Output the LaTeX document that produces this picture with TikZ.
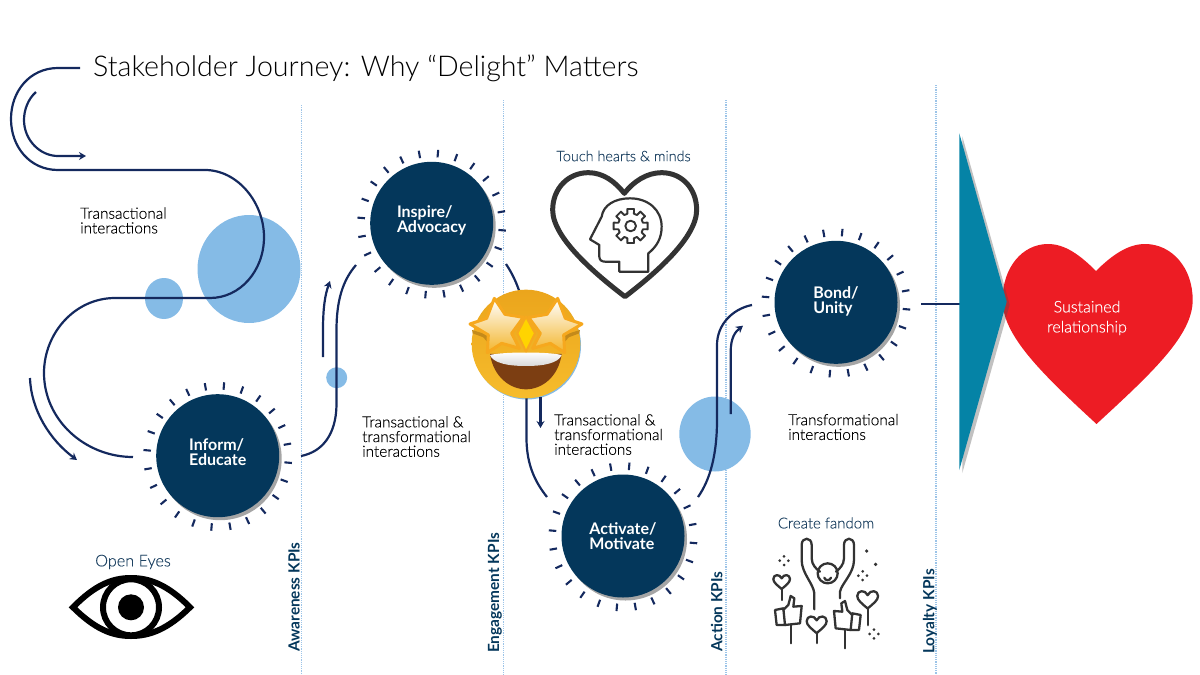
\documentclass[tikz,border=0pt]{standalone}
\usepackage{fontspec}
\setmainfont{Lato}
\newfontfamily\lightfont{Lato Light}
\newfontfamily\talkfont{Lato Light}[FakeBold=0.2]
\usetikzlibrary{arrows.meta,shadows}

\definecolor{navyline}{HTML}{14295E}
\definecolor{stageblue}{HTML}{04375B}
\definecolor{paleblue}{HTML}{85BBE6}
\definecolor{kpiline}{HTML}{9CC4E8}
\definecolor{captionblue}{HTML}{1F4363}
\definecolor{wedgeblue}{HTML}{0583A6}
\definecolor{heartred}{HTML}{ED1C24}
\definecolor{icongrey}{HTML}{333333}
\definecolor{facetop}{HTML}{EBA51C}
\definecolor{facelow}{HTML}{F6BC2C}
\definecolor{browgold}{HTML}{C48A1A}
\definecolor{mouthbrown}{HTML}{7C3E12}
\definecolor{starrim}{HTML}{F6A81E}
\definecolor{starlow}{HTML}{F3B52B}
\definecolor{gemyellow}{HTML}{FFD400}

\begin{document}
\begin{tikzpicture}[
		x=1pt,y=-1pt,
		zoomed/.style={x=.3333pt,y=-.3333pt},
		journey/.style={draw=navyline,line width=2.2pt},
		journeyarrow/.style={journey,-{Stealth[length=7pt,width=8pt]}},
		kpiline/.style={draw=kpiline,line width=1.2pt,densely dotted},
		blob/.style={fill=paleblue},
		stage/.style={circle,fill=stageblue,minimum size=123pt,inner sep=0pt,text=white,align=left,
			font=\fontsize{16}{14.7}\selectfont\bfseries,
			drop shadow={shadow xshift=2.5pt,shadow yshift=-3pt,opacity=.5,fill=black!70}},
		talk/.style={anchor=west,align=left,inner sep=0pt,text=black,font=\fontsize{15.4}{14.7}\selectfont\talkfont},
		caption/.style={inner sep=0pt,text=captionblue,font=\fontsize{15}{16}\selectfont\talkfont},
		kpi/.style={anchor=west,rotate=90,inner sep=0pt,text=stageblue,font=\fontsize{15.4}{15}\selectfont\bfseries},
		iconline/.style={draw=icongrey,line width=#1,line join=round,line cap=round},
		iconline/.default=2.3pt,
		pics/rays/.style={
			code={%
				\foreach \a in {-85,-70,...,260}
					\draw[navyline,line width=2.1pt] (\a:67) -- (\a:74.5);
			}
		},
		pics/lolly/.style={
			code={%
				\draw[iconline] (0,22) -- (0,#1);
				\draw[iconline] (0,22) .. controls (-14,10) and (-25,2) .. (-25,-8) .. controls (-25,-22) and (-6,-24) .. (0,-10) .. controls (6,-24) and (25,-22) .. (25,-8) .. controls (25,2) and (14,10) .. (0,22) -- cycle;
			}
		},
		pics/thumb/.style={
			code={%
				\draw[iconline] (-40,-15) -- (-15,-20) -- (-10,30) -- (-35,30) -- cycle;
				\draw[iconline] (-15,-15) -- (0,-30) -- (7,-57) -- (18,-50) -- (15,-25) -- (40,-27) -- (35,25) -- (-10,30);
				\draw[iconline] (7,30) -- (7,85);
			}
		},
		pics/starlens/.style={
			code={%
				\fill[browgold] (-162,150) -- (-113,165) -- (-113,190) -- (-128,172) -- (-160,160) -- cycle;
				\draw[draw=starrim,line width=3pt,line join=round,top color=white,bottom color=starlow]
					(-95,55) -- (-63,103) -- (-8,112) -- (-43,160) -- (-20,205) -- (-73,190) -- (-116,218) -- (-113,165) -- (-168,132) -- (-118,115) -- cycle;
			}
		},
		]

	\useasboundingbox (0,0) rectangle (1200,675);

	% KPI dividers
	\coordinate (kpia) at (301.5,105);
	\coordinate (kpiaend) at (301.5,675);
	\coordinate (kpib) at (503.5,100);
	\coordinate (kpibend) at (503.5,675);
	\coordinate (kpic) at (726,100);
	\coordinate (kpicend) at (726,675);
	\coordinate (kpid) at (936,85);
	\coordinate (kpidend) at (936,675);
	\draw[kpiline] (kpia)--(kpiaend);
	\draw[kpiline] (kpib)--(kpibend);
	\draw[kpiline] (kpic)--(kpicend);
	\draw[kpiline] (kpid)--(kpidend);

	% pale circles
	\fill[blob] (249,269) ellipse[x radius=51.5,y radius=54];
	\fill[blob] (164,298.5) ellipse[x radius=19,y radius=20.5];
	\fill[blob] (336.7,377.7) circle[radius=10.5];
	\fill[blob] (715,434) ellipse[x radius=35.7,y radius=37.5];
	\fill[blob] (527,345.5) circle[radius=54];

	\node[stage,text depth=7.4pt](inform) at (217.7,455.7){Inform/\\Educate};
	\node[stage,text depth=8.6pt](inspire) at (431.7,223.3){Inspire/\\Advocacy};
	\node[stage](activate) at (623,536){Activate/\\Motivate};
	\node[stage,text depth=4.6pt](bond) at (836,302.3){Bond/\\Unity};
	\pic at ([yshift=-.8pt]inform.center){rays};
	\pic at ([yshift=-.8pt]inspire.center){rays};
	\pic at ([yshift=-.8pt]activate.center){rays};
	\pic at ([yshift=-.8pt]bond.center){rays};

	% journey lines, free ends stop short of the stages
	\coordinate (titletail) at (80,68);
	\coordinate (informin) at (133,457);
	\coordinate (informout) at (301,456);
	\coordinate (inspirein) at (356,265);
	\coordinate (inspireout) at (506,264);
	\coordinate (activatein) at (547,497);
	\coordinate (activateout) at (698,497);
	\coordinate (bondin) at (752,305);
	\coordinate (bondout) at (921,303.7);
	\draw[journey] (titletail) -- (58,68) .. controls (30,68) and (11,91) .. (11,119) .. controls (11,147) and (30,170) .. (58,170) -- (205,170) .. controls (238,170) and (264,203) .. (264,237) .. controls (264,271) and (240,298) .. (210,298) -- (115,298) .. controls (75,298) and (44,333) .. (44,373) .. controls (44,420) and (85,457) .. (informin);
	\draw[journey] (informout) .. controls (322,452) and (336,435) .. (336.5,405) -- (336.5,330) .. controls (336.5,300) and (343,280) .. (inspirein);
	\draw[journey] (inspireout) .. controls (520,285) and (526.5,310) .. (526.5,340) -- (526.5,440) .. controls (527,465) and (535,482) .. (activatein);
	\draw[journey] (activateout) .. controls (710,480) and (717,455) .. (717,420) -- (717,345) .. controls (717,325) and (732,309) .. (bondin);

	% little arrows alongside
	\coordinate (arrowa) at (36,92);
	\coordinate (arrowaend) at (86,156);
	\coordinate (arrowb) at (30,378);
	\coordinate (arrowbend) at (77,460);
	\coordinate (arrowc) at (323,357);
	\coordinate (arrowcend) at (330,281);
	\coordinate (arrowd) at (540.5,397);
	\coordinate (arrowdend) at (540.5,428);
	\coordinate (arrowe) at (730.7,414);
	\coordinate (arrowend) at (743,325.7);
	\draw[journeyarrow] (arrowa) .. controls (28,99) and (24,110) .. (24,120) .. controls (24,140) and (40,156) .. (58,156) -- (arrowaend);
	\draw[journeyarrow] (arrowb) .. controls (31,410) and (50,440) .. (arrowbend);
	\draw[journeyarrow] (arrowc) -- (323,330) .. controls (323,308) and (325,295) .. (arrowcend);
	\draw[journeyarrow] (arrowd) -- (arrowdend);
	\draw[journeyarrow] (arrowe) -- (730.7,352) .. controls (730.7,338) and (735,332) .. (arrowend);

	% end of the journey
	\coordinate (wedgein) at (960,303.7);
	\draw[journey] (bondout) -- (wedgein);
	\fill[heartred] (1096,271) .. controls (1080,255) and (1065,244) .. (1048,244) .. controls (1022,244) and (1002.5,268) .. (1002.5,300) .. controls (1002.5,335) and (1040,372) .. (1096.5,424) .. controls (1153,372) and (1192.7,335) .. (1192.7,300) .. controls (1192.7,268) and (1172,244) .. (1145,244) .. controls (1128,244) and (1112,255) .. (1096,271) -- cycle;
	\fill[wedgeblue,drop shadow={shadow xshift=3pt,shadow yshift=-3pt,opacity=.35,fill=black!70}] (959.3,133.3) -- (1006.7,301.7) -- (959.3,470) -- cycle;
	\node[inner sep=0pt,align=center,text=white,font=\fontsize{16}{20}\selectfont\talkfont](sustained) at (1087,318){Sustained\\relationship};

	% texts
	\node[inner sep=0pt,anchor=west,text=black,font=\fontsize{28.6}{30}\selectfont\lightfont](title) at (93,68){Stakeholder Journey: Why “Delight” Matters};
	\node[talk](talka) at (80,220.5){Transactional\\interactions};
	\node[talk](talkb) at (362,436.5){Transactional \&\\transformational\\interactions};
	\node[talk](talkc) at (554,434.5){Transactional \&\\transformational\\interactions};
	\node[talk](talkd) at (788,427){Transformational\\interactions};
	\node[caption,font=\fontsize{16.2}{16}\selectfont\talkfont](eyes) at (133,562){Open Eyes};
	\node[caption,font=\fontsize{14.4}{16}\selectfont\talkfont](touch) at (623.5,156){Touch hearts \& minds};
	\node[caption](fandom) at (826,523){Create fandom};
	\node[kpi](kpiaware) at (294,652){Awareness KPIs};
	\node[kpi](kpiengage) at (495,653){Engagement KPIs};
	\node[kpi](kpiaction) at (716.7,652){Action KPIs};
	\node[kpi](kpiloyal) at (930,654){Loyalty KPIs};

	% eye
	\draw[black,line width=6pt,line join=miter] (73,607.3) .. controls (95,585) and (112,578) .. (131,578) .. controls (150,578) and (168,585) .. (190,607.3) .. controls (168,629) and (150,636) .. (131,636) .. controls (112,636) and (95,629) .. (73,607.3) -- cycle;
	\draw[black,line width=6pt] (131,607.3) circle[radius=28];
	\fill[black] (131,607.3) circle[radius=13];

	% heart with head and gear
	\begin{scope}[shift={(540,160)},zoomed]
		\draw[iconline=5pt] (253,100) .. controls (225,65) and (190,38) .. (145,38) .. controls (85,38) and (38,85) .. (38,150) .. controls (38,235) and (170,345) .. (255,410) .. controls (340,345) and (470,235) .. (470,150) .. controls (470,85) and (425,38) .. (365,38) .. controls (320,38) and (280,65) .. (253,100) -- cycle;
		\draw[iconline=2.2pt] (325,335) -- (325,280) .. controls (350,260) and (365,235) .. (365,200) .. controls (365,150) and (325,115) .. (270,115) .. controls (225,115) and (190,135) .. (185,170) -- (150,238) -- (178,255) -- (178,290) .. controls (178,300) and (185,305) .. (195,305) -- (238,305) -- (238,335) -- cycle;
		\begin{scope}[shift={(272,198)}]
			\draw[iconline=1.9pt] (-11:52) \foreach \a in {0,45,...,315}{ -- (\a-11:52) -- (\a+11:52) -- (\a+15:38) -- (\a+30:38) } -- cycle;
			\draw[iconline=1.9pt] (0,0) circle[radius=16];
		\end{scope}
	\end{scope}

	% fandom figure
	\begin{scope}[shift={(760,530)},zoomed]
		\draw[iconline] (163,238) -- (163,190) .. controls (160,160) and (125,130) .. (125,90) -- (125,45) .. controls (125,20) and (155,20) .. (155,45) -- (155,85) .. controls (155,105) and (170,118) .. (180,125);
		\draw[iconline] (240,205) -- (240,185) .. controls (245,160) and (282,130) .. (282,90) -- (282,45) .. controls (282,20) and (252,20) .. (252,45) -- (252,85) .. controls (252,105) and (237,118) .. (228,125);
		\draw[iconline] (203,130) circle[radius=30];
		\draw[iconline] (193,143) .. controls (195,153) and (210,153) .. (213,143);
		\pic at (65,155){lolly=55};
		\pic[scale=1.2] at (170,283){lolly=47};
		\pic[scale=1.25] at (323,208){lolly=62};
		\pic at (85,255){thumb};
		\pic[xscale=-1] at (262,270){thumb};
		\foreach \x/\y in {72/92,308/137,342/312}{
			\fill[icongrey] (\x-13,\y) circle[radius=4.5] (\x+13,\y) circle[radius=4.5] (\x,\y-13) circle[radius=4.5] (\x,\y+13) circle[radius=4.5];
		}
		\fill[icongrey] (320,63) circle[radius=5.5] (347,103) circle[radius=5.5];
	\end{scope}

	% emoji
	\begin{scope}[shift={(460,280)},zoomed]
		\shade[top color=facetop,bottom color=facelow] (198,192) circle[radius=163];
		\fill[mouthbrown] (90,222) .. controls (100,290) and (150,328) .. (198,328) .. controls (246,328) and (296,290) .. (305,222) -- cycle;
		\shade[top color=white,bottom color=black!15] (90,225) .. controls (130,215) and (265,215) .. (305,225) .. controls (295,250) and (250,258) .. (198,258) .. controls (145,258) and (100,250) .. (90,225) -- cycle;
		\pic at (198,0){starlens};
		\pic[xscale=-1] at (198,0){starlens};
		\draw[draw=starrim,fill=gemyellow,line width=2pt,line join=round] (198,110) -- (225,160) -- (198,215) -- (172,160) -- cycle;
	\end{scope}
\end{tikzpicture}
\end{document}
